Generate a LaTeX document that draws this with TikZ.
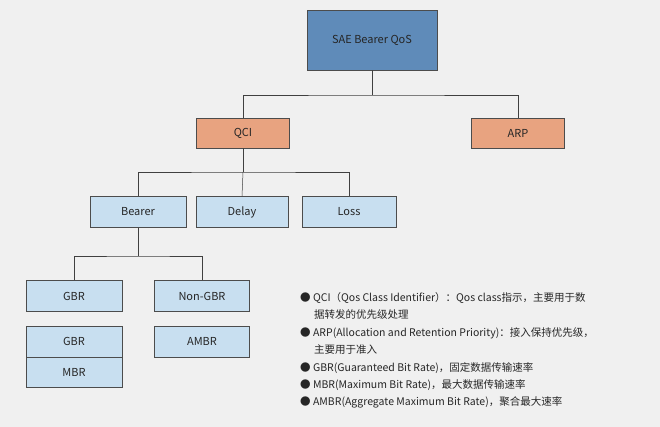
\documentclass[tikz,border=0pt]{standalone}
\usepackage{fontspec}
\setmainfont{Noto Sans CJK SC}
\begin{document}
\begin{tikzpicture}[x=1pt,y=-1pt,
  bx/.style={draw=black!70,line width=0.5pt,inner sep=0pt,font=\fontsize{11}{13}\selectfont,text=black!85},
  top/.style={bx,minimum width=130pt,minimum height=60pt},
  sal/.style={bx,minimum width=93pt,minimum height=30pt},
  lb/.style={bx,minimum width=96pt,minimum height=31pt},
  ln/.style={draw=black!75,line width=0.5pt},
  bt/.style={anchor=west,font=\fontsize{10.5}{12}\selectfont,text=black!85,inner sep=0pt}]
\fill[black!6] (0,0) rectangle (660,427);
\useasboundingbox (0,0) rectangle (660,427);
\node[top,fill={rgb,255:red,95;green,139;blue,185}] (sae) at (372,40) {SAE Bearer QoS};
\node[sal,fill={rgb,255:red,232;green,163;blue,128}] (qci) at (243,133) {QCI};
\node[sal,fill={rgb,255:red,232;green,163;blue,128}] (arp) at (518,133) {ARP};
\tikzset{lbc/.style={lb,fill={rgb,255:red,200;green,223;blue,240}}}
\node[lbc] (bearer) at (138,212) {Bearer};
\node[lbc,minimum width=92pt] (delay) at (242,212) {Delay};
\node[lbc,minimum width=94pt] (loss) at (349,212) {Loss};
\node[lbc] (gbr) at (74,296) {GBR};
\node[lbc,minimum width=95pt] (ngbr) at (202,296) {Non-GBR};
\node[lbc,minimum height=31pt] (gbr2) at (74,341.5) {GBR};
\node[lbc,minimum height=30pt] (mbr) at (74,372) {MBR};
\node[lbc,minimum width=95pt] (ambr) at (202,341.5) {AMBR};
\coordinate (j1) at (372,95);
\coordinate (j2) at (243,172);
\coordinate (j3) at (138,256);
\draw[ln] (sae.south) -- (j1);
\draw[ln] (qci.north) |- (j1) -| (arp.north);
\draw[ln] (qci.south) -- (j2);
\draw[ln] (bearer.north) |- (j2) -| (loss.north);
\draw[ln] (j2) -- (delay.north);
\draw[ln] (bearer.south) -- (j3);
\draw[ln] (gbr.north) |- (j3) -| (ngbr.north);
\node[bt] (t1) at (300,298) {● QCI（Qos Class Identifier）：Qos class指示，主要用于数};
\node[bt] (t2) at (314,315) {据转发的优先级处理};
\node[bt] (t3) at (300,333) {● ARP(Allocation and Retention Priority)：接入保持优先级，};
\node[bt] (t4) at (314,350) {主要用于准入};
\node[bt] (t5) at (300,368) {● GBR(Guaranteed Bit Rate)，固定数据传输速率};
\node[bt] (t6) at (300,385) {● MBR(Maximum Bit Rate)，最大数据传输速率};
\node[bt] (t7) at (300,402) {● AMBR(Aggregate Maximum Bit Rate)，聚合最大速率};
\end{tikzpicture}
\end{document}
